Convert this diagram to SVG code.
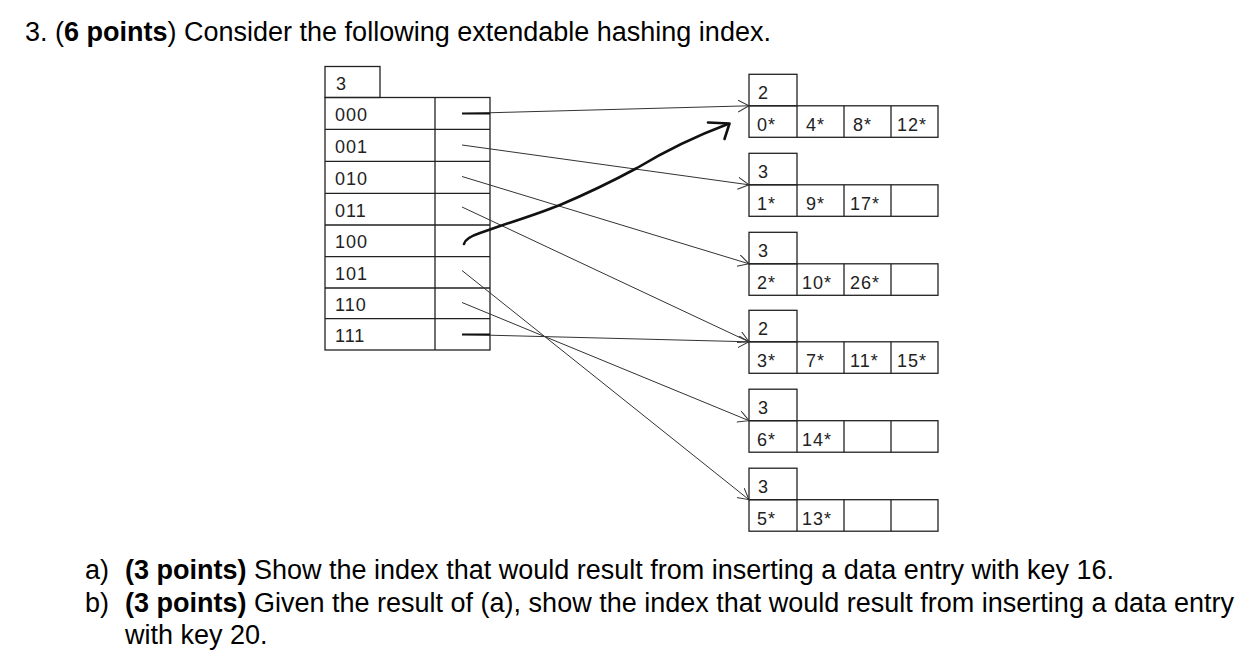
<svg xmlns="http://www.w3.org/2000/svg" width="1254" height="665" viewBox="0 0 1254 665">
<style>
  .q { font-family: "Liberation Sans", Arial, sans-serif; font-size: 27px; fill: #000; }
  .b { font-weight: bold; }
  .box { fill: none; stroke: #222; stroke-width: 1.3; }
  .lbl { font-family: "Liberation Sans", Arial, sans-serif; font-size: 18px; letter-spacing: 1px; fill: #222; }
  .ptr { fill: none; stroke: #333; stroke-width: 1; }
  .stub { fill: none; stroke: #111; stroke-width: 2; }
  .hand { fill: none; stroke: #111; stroke-width: 2.6; stroke-linecap: round; stroke-linejoin: round; }
</style>
<defs>
  <marker id="arr" markerUnits="userSpaceOnUse" markerWidth="14" markerHeight="14" refX="11" refY="6" orient="auto">
    <path d="M0,0 L11,6 L0,12" fill="none" stroke="#333" stroke-width="1"/>
  </marker>
</defs>

<g id="question">
  <text class="q" x="25" y="41">3. (<tspan class="b">6 points</tspan>) Consider the following extendable hashing index.</text>
  <text class="q" x="85" y="579">a)</text>
  <text class="q" x="125" y="579"><tspan class="b">(3 points)</tspan> Show the index that would result from inserting a data entry with key 16.</text>
  <text class="q" x="85" y="612">b)</text>
  <text class="q" x="125" y="612"><tspan class="b">(3 points)</tspan> Given the result of (a), show the index that would result from inserting a data entry</text>
  <text class="q" x="125" y="644">with key 20.</text>
</g>

<g id="directory">
  <rect class="box" x="325" y="66.5" width="55" height="31"/>
  <text class="lbl" x="336" y="90">3</text>
  <rect class="box" x="325" y="97.5" width="165" height="252.5"/>
  <line class="box" x1="435" y1="97.5" x2="435" y2="350"/>
  <path class="box" d="M325,129.3H490M325,161.3H490M325,193.3H490M325,225H490M325,256.7H490M325,288H490M325,318.7H490"/>
  <text class="lbl" x="335" y="121">000</text>
  <text class="lbl" x="335" y="153">001</text>
  <text class="lbl" x="335" y="184.5">010</text>
  <text class="lbl" x="335" y="216.5">011</text>
  <text class="lbl" x="335" y="248">100</text>
  <text class="lbl" x="335" y="280">101</text>
  <text class="lbl" x="335" y="311">110</text>
  <text class="lbl" x="335" y="342">111</text>
</g>

<g id="bucket-1">
  <rect class="box" x="749" y="74.3" width="48" height="31.5"/>
  <rect class="box" x="749" y="105.8" width="189" height="31.5"/>
  <path class="box" d="M797,105.8V137.3M844,105.8V137.3M891,105.8V137.3"/>
  <text class="lbl" x="758" y="99">2</text>
  <text class="lbl" x="757" y="131">0*</text>
  <text class="lbl" x="806" y="131">4*</text>
  <text class="lbl" x="853" y="131">8*</text>
  <text class="lbl" x="897" y="131">12*</text>
</g>
<g id="bucket-2">
  <rect class="box" x="749" y="153.3" width="48" height="31.5"/>
  <rect class="box" x="749" y="184.8" width="189" height="31.5"/>
  <path class="box" d="M797,184.8V216.3M844,184.8V216.3M891,184.8V216.3"/>
  <text class="lbl" x="758" y="178">3</text>
  <text class="lbl" x="757" y="210">1*</text>
  <text class="lbl" x="806" y="210">9*</text>
  <text class="lbl" x="850" y="210">17*</text>
</g>
<g id="bucket-3">
  <rect class="box" x="749" y="232.3" width="48" height="31.5"/>
  <rect class="box" x="749" y="263.8" width="189" height="31.5"/>
  <path class="box" d="M797,263.8V295.3M844,263.8V295.3M891,263.8V295.3"/>
  <text class="lbl" x="758" y="257">3</text>
  <text class="lbl" x="757" y="289">2*</text>
  <text class="lbl" x="802" y="289">10*</text>
  <text class="lbl" x="850" y="289">26*</text>
</g>
<g id="bucket-4">
  <rect class="box" x="749" y="310.3" width="48" height="31.5"/>
  <rect class="box" x="749" y="341.8" width="189" height="31.5"/>
  <path class="box" d="M797,341.8V373.3M844,341.8V373.3M891,341.8V373.3"/>
  <text class="lbl" x="758" y="335">2</text>
  <text class="lbl" x="757" y="367">3*</text>
  <text class="lbl" x="806" y="367">7*</text>
  <text class="lbl" x="850" y="367">11*</text>
  <text class="lbl" x="897" y="367">15*</text>
</g>
<g id="bucket-5">
  <rect class="box" x="749" y="389.2" width="48" height="31.5"/>
  <rect class="box" x="749" y="420.7" width="189" height="31.5"/>
  <path class="box" d="M797,420.7V452.2M844,420.7V452.2M891,420.7V452.2"/>
  <text class="lbl" x="758" y="414">3</text>
  <text class="lbl" x="757" y="446">6*</text>
  <text class="lbl" x="802" y="446">14*</text>
</g>
<g id="bucket-6">
  <rect class="box" x="749" y="468.2" width="48" height="31.5"/>
  <rect class="box" x="749" y="499.7" width="189" height="31.5"/>
  <path class="box" d="M797,499.7V531.2M844,499.7V531.2M891,499.7V531.2"/>
  <text class="lbl" x="758" y="493">3</text>
  <text class="lbl" x="757" y="525">5*</text>
  <text class="lbl" x="802" y="525">13*</text>
</g>

<g id="connectors">
  <line class="ptr" x1="462" y1="113.5" x2="749" y2="105.8" marker-end="url(#arr)"/>
  <line class="ptr" x1="462" y1="145" x2="749" y2="184.8" marker-end="url(#arr)"/>
  <line class="ptr" x1="462" y1="176.5" x2="749" y2="263.8" marker-end="url(#arr)"/>
  <line class="ptr" x1="462" y1="207" x2="749" y2="341.8" marker-end="url(#arr)"/>
  <line class="ptr" x1="462" y1="270.5" x2="749" y2="499.7" marker-end="url(#arr)"/>
  <line class="ptr" x1="462" y1="302.5" x2="749" y2="420.7" marker-end="url(#arr)"/>
  <line class="ptr" x1="462" y1="334.5" x2="749" y2="341.8" marker-end="url(#arr)"/>
  <path class="stub" d="M462,113.5H490M462,334.5H490"/>
  <path class="hand" d="M464,244 Q465,238 480,233 L500,226 Q540,213 560,205 Q600,188 637,168 Q680,142 728,124"/>
  <path class="hand" d="M708,122.5 L729.5,123.5 L724.5,139"/>
</g>
</svg>
